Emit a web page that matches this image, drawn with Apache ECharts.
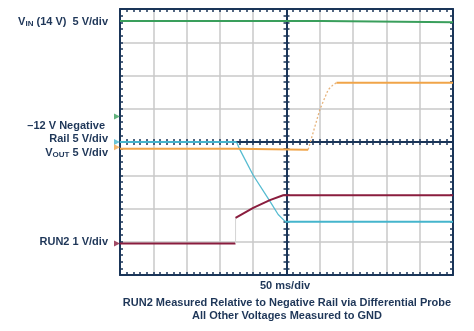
<!DOCTYPE html>
<html><head><meta charset="utf-8">
<script src="https://cdn.jsdelivr.net/npm/echarts@6/dist/echarts.min.js"></script>
<style>html,body{margin:0;padding:0;background:#fff;}#c{width:474px;height:331px;}</style>
</head><body><div id="c"></div>
<script>
// Data in scope divisions: x 0..10 (50 ms/div), y 0..8
const vinTrace = [[0,7.64],[6.07,7.64],[6.1,7.6],[10,7.6]];
const railFlatA = [[0,4.0],[3.5,4.0]];
const railFall = [[3.5,4.0],[3.6,3.77],[4.0,3.0],[4.5,2.22],[4.75,1.82],[4.95,1.62]];
const railFlatB = [[4.95,1.6],[10,1.6]];
const voutFlatA = [[0,3.8],[3.5,3.8],[3.55,3.77],[5.65,3.77]];
const voutRise = [[5.65,3.77],[6.0,4.97],[6.25,5.57],[6.4,5.72],[6.5,5.78]];
const voutFlatB = [[6.5,5.78],[10,5.78]];
const run2FlatA = [[0,0.95],[3.47,0.95]];
const run2Jump = [[3.47,0.95],[3.47,1.72]];
const run2Rise = [[3.47,1.72],[4.0,2.02],[4.5,2.25],[4.9,2.4],[10,2.4]];
const markerLevels = [4.77, 4.0, 3.84, 0.95];
const markerNames = ['VIN', 'Rail', 'VOUT', 'RUN2'];

const C = {green:'#3a9f5c', cyan:'#45b5cc', orange:'#f0a448', red:'#8a1d3e', frame:'#1a3558', grid:'#c9c9c9', text:'#1e3658'};
const markerColors = [C.green, C.cyan, C.orange, C.red];

function xAx(pos, offset, inside, split){
  return {type:'value', min:0, max:10, interval:1, position:pos, offset:offset,
    axisLine:{show:true, onZero:false, lineStyle:{color:C.frame, width:2}},
    axisTick:{show:true, inside:inside, length:3, lineStyle:{color:C.frame, width:1.5}},
    minorTick:{show:true, splitNumber:5, length:3, lineStyle:{color:C.frame, width:1.5}},
    axisLabel:{show:false}, splitLine:{show:split, lineStyle:{color:C.grid, width:1.5}}};
}
function yAx(pos, offset, inside, split){
  return {type:'value', min:0, max:8, interval:1, position:pos, offset:offset,
    axisLine:{show:true, onZero:false, lineStyle:{color:C.frame, width:2}},
    axisTick:{show:true, inside:inside, length:3, lineStyle:{color:C.frame, width:1.5}},
    minorTick:{show:true, splitNumber:5, length:3, lineStyle:{color:C.frame, width:1.5}},
    axisLabel:{show:false}, splitLine:{show:split, lineStyle:{color:C.grid, width:1.5}}};
}
function line(data, color, width, opts){
  return Object.assign({type:'line', data:data, symbol:'none', silent:true, animation:false,
    lineStyle:{color:color, width:width}, z:3}, opts||{});
}
const chart = echarts.init(document.getElementById('c'), null, {renderer:'canvas'});
const GW = 333, GH = 266;
const F = '"Liberation Sans", Arial, sans-serif';
chart.setOption({
  backgroundColor:'#fff',
  animation:false,
  grid:{left:120, top:9, width:GW, height:GH},
  xAxis:[xAx('bottom',0,true,true), xAx('top',0,true,false), xAx('bottom',-GH/2,true,false), xAx('bottom',-GH/2,false,false)],
  yAxis:[yAx('left',0,true,true), yAx('right',0,true,false), yAx('left',-GW/2,true,false), yAx('left',-GW/2,false,false)],
  series:[
    line(vinTrace, C.green, 2),
    line(railFlatA, C.cyan, 2.2),
    line(railFall, C.cyan, 1.3, {lineStyle:{color:C.cyan, width:1.3, opacity:0.9}}),
    line(railFlatB, C.cyan, 2),
    line(voutFlatA, C.orange, 2),
    line(voutRise, C.orange, 1.2, {lineStyle:{color:'#e3a766', width:1.3, type:[2,2], opacity:0.85}}),
    line(voutFlatB, C.orange, 2),
    line(run2FlatA, C.red, 2),
    line(run2Jump, '#d4d4d4', 1),
    line(run2Rise, C.red, 2),
    {type:'scatter', silent:true, animation:false, clip:false, z:5,
      symbol:'triangle', symbolRotate:-90, symbolSize:[6,6], symbolOffset:[-3,0],
      data: markerLevels.map((v,i)=>({name:markerNames[i], value:[0,v], itemStyle:{color:markerColors[i]}}))}
  ],
  graphic:[
    {type:'text', right:366, top:16, style:{rich:{m:{fontSize:11, fontWeight:'bold', fill:C.text, fontFamily:F}, s:{fontSize:8, fontWeight:'bold', fill:C.text, fontFamily:F, padding:[5,0,0,0]}}, text:'{m|V}{s|IN}{m| (14 V)  5 V/div}'}},
    {type:'text', right:369, top:120, style:{text:'–12 V Negative', font:'bold 11px ' + F, fill:C.text}},
    {type:'text', right:366, top:133, style:{text:'Rail 5 V/div', font:'bold 11px ' + F, fill:C.text}},
    {type:'text', right:366, top:147, style:{rich:{m:{fontSize:11, fontWeight:'bold', fill:C.text, fontFamily:F}, s:{fontSize:8, fontWeight:'bold', fill:C.text, fontFamily:F, padding:[5,0,0,0]}}, text:'{m|V}{s|OUT}{m| 5 V/div}'}},
    {type:'text', right:366, top:236, style:{text:'RUN2 1 V/div', font:'bold 11px ' + F, fill:C.text}},
    {type:'text', x:285, y:286, style:{text:'50 ms/div', font:'bold 11px ' + F, fill:C.text, align:'center', verticalAlign:'middle'}},
    {type:'text', x:287, y:303, style:{text:'RUN2 Measured Relative to Negative Rail via Differential Probe', font:'bold 11px ' + F, fill:C.text, align:'center', verticalAlign:'middle'}},
    {type:'text', x:287, y:316, style:{text:'All Other Voltages Measured to GND', font:'bold 11px ' + F, fill:C.text, align:'center', verticalAlign:'middle'}}
  ]
});
</script></body></html>
